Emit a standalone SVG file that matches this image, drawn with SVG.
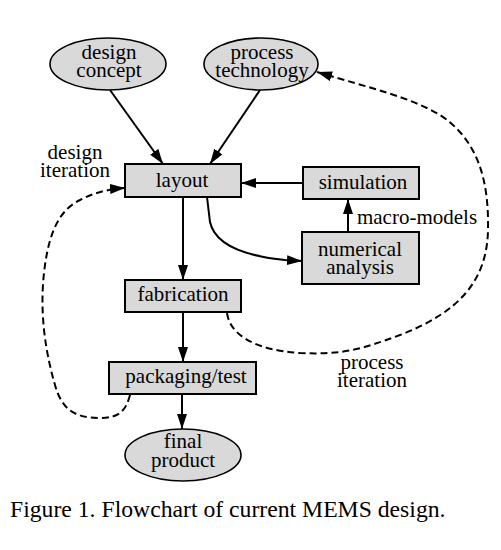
<svg xmlns="http://www.w3.org/2000/svg" width="501" height="550" viewBox="0 0 501 550">
<style>
text{font-family:"Liberation Serif","Times New Roman",serif;font-size:21px;fill:#000;text-anchor:middle}
.cap{font-size:23.7px;text-anchor:start}
.n{fill:#d9d9d9;stroke:#000;stroke-width:2}
.e{fill:#d9d9d9;stroke:#000;stroke-width:1.6}
.s{fill:none;stroke:#000;stroke-width:2}
.d{fill:none;stroke:#000;stroke-width:2;stroke-dasharray:7,4}
</style>
<defs>
<marker id="ah" markerUnits="userSpaceOnUse" markerWidth="16" markerHeight="11" refX="15" refY="5" orient="auto">
<path d="M0,0 L15,5 L0,10 z" fill="#000"/>
</marker>
</defs>
<rect width="501" height="550" fill="#fff"/>
<g id="connectors">
<path class="s" d="M110,90 L163,164" marker-end="url(#ah)"/>
<path class="s" d="M260,90 L210,164" marker-end="url(#ah)"/>
<path class="s" d="M303,183 L241,183" marker-end="url(#ah)"/>
<path class="s" d="M183,197 L183,280" marker-end="url(#ah)"/>
<path class="s" d="M207,197 L210,222 C215,245 245,256 285,260 L302,261" marker-end="url(#ah)"/>
<path class="s" d="M348,232 L348,199" marker-end="url(#ah)"/>
<path class="s" d="M183,312 L183,362" marker-end="url(#ah)"/>
<path class="s" d="M182,394 L182,429" marker-end="url(#ah)"/>
<path class="d" d="M130,395 C126,410 120,418 100,418 C75,418 62,410 55,385 C42,340 40,300 45,265 C50,230 60,210 80,200 C95,192 110,189 125,188" marker-end="url(#ah)"/>
<path class="d" d="M227,313 C230,335 255,350 300,353 C340,355 360,350 400,335 C460,312 487,280 488,230 C489,180 478,140 440,115 C410,97 370,88 317,72" marker-end="url(#ah)"/>
<text x="75" y="159">design</text>
<text x="75" y="177">iteration</text>
<text x="417" y="224">macro-models</text>
<text x="372" y="369">process</text>
<text x="372" y="387">iteration</text>
</g>
<g id="design_concept">
<ellipse class="e" cx="108" cy="64" rx="58" ry="26"/>
<text x="109" y="59">design</text>
<text x="109" y="77">concept</text>
</g>
<g id="process_technology">
<ellipse class="e" cx="261" cy="64" rx="57" ry="26"/>
<text x="262" y="59">process</text>
<text x="262" y="77">technology</text>
</g>
<g id="layout">
<rect class="n" x="125" y="164" width="116" height="33"/>
<text x="182" y="187">layout</text>
</g>
<g id="simulation">
<rect class="n" x="303" y="167" width="116" height="32"/>
<text x="363" y="189">simulation</text>
</g>
<g id="numerical_analysis">
<rect class="n" x="302" y="232" width="117" height="52"/>
<text x="360" y="256">numerical</text>
<text x="360" y="274">analysis</text>
</g>
<g id="fabrication">
<rect class="n" x="125" y="280" width="116" height="32"/>
<text x="183" y="301">fabrication</text>
</g>
<g id="packaging_test">
<rect class="n" x="109" y="362" width="147" height="32"/>
<text x="186" y="383">packaging/test</text>
</g>
<g id="final_product">
<ellipse class="e" cx="183" cy="455" rx="58" ry="26"/>
<text x="183" y="448">final</text>
<text x="183" y="467">product</text>
</g>
<text class="cap" x="10" y="517">Figure 1. Flowchart of current MEMS design.</text>
</svg>
